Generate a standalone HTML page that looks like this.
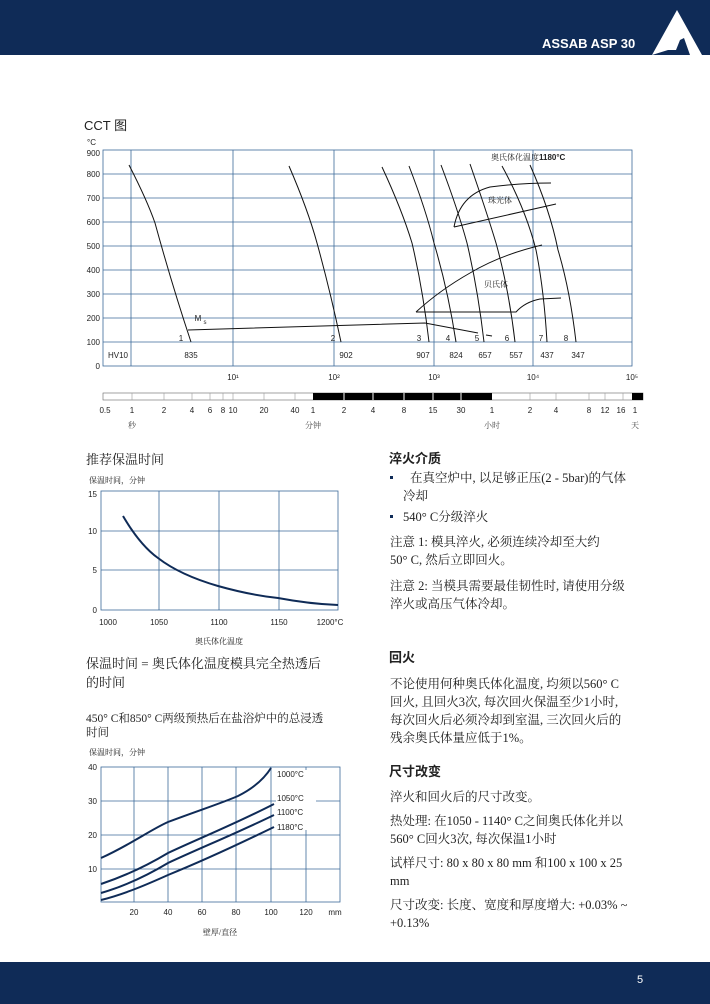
<!DOCTYPE html>
<html><head><meta charset="utf-8"><style>
body{margin:0;background:#fff}
svg{display:block}
.s{font-family:"Liberation Sans","Noto Sans CJK SC",sans-serif}
.r{font-family:"Liberation Serif","Noto Serif CJK SC",serif}
</style></head><body>
<svg width="710" height="1004" viewBox="0 0 710 1004" xmlns="http://www.w3.org/2000/svg">
<rect x="0" y="0" width="710" height="55" fill="#0f2b57"/>
<text x="542" y="48" class="s" font-size="13" font-weight="bold" fill="#fff">ASSAB ASP 30</text>
<path d="M652 55 L677 10 L702 55 L690 55 L684 38 L680 40 L676 50 L668 50 Z" fill="#fff"/>
<rect x="0" y="962" width="710" height="42" fill="#0f2b57"/>
<text x="637" y="983" class="s" font-size="11" fill="#fff">5</text>

<!-- CCT -->
<text x="84" y="130" class="s" font-size="13" fill="#222">CCT 图</text>
<text x="87" y="145" class="s" font-size="8" fill="#222">°C</text>
<g stroke="#3c6a9a" stroke-width="0.8" fill="none">
<rect x="103" y="150" width="529" height="216"/>
<line x1="103" y1="174" x2="632" y2="174"/><line x1="103" y1="198" x2="632" y2="198"/>
<line x1="103" y1="222" x2="632" y2="222"/><line x1="103" y1="246" x2="632" y2="246"/>
<line x1="103" y1="270" x2="632" y2="270"/><line x1="103" y1="294" x2="632" y2="294"/>
<line x1="103" y1="318" x2="632" y2="318"/><line x1="103" y1="342" x2="632" y2="342"/>
<line x1="131" y1="150" x2="131" y2="366"/><line x1="233" y1="150" x2="233" y2="366"/>
<line x1="334" y1="150" x2="334" y2="366"/><line x1="434" y1="150" x2="434" y2="366"/>
<line x1="533" y1="150" x2="533" y2="366"/>
</g>
<g class="s" font-size="8" fill="#222" text-anchor="end">
<text x="100" y="156">900</text><text x="100" y="177">800</text><text x="100" y="201">700</text>
<text x="100" y="225">600</text><text x="100" y="249">500</text><text x="100" y="273">400</text>
<text x="100" y="297">300</text><text x="100" y="321">200</text><text x="100" y="345">100</text>
<text x="100" y="369">0</text>
</g>
<g class="s" font-size="8" fill="#222" text-anchor="middle">
<text x="233" y="380">10¹</text><text x="334" y="380">10²</text><text x="434" y="380">10³</text>
<text x="533" y="380">10⁴</text><text x="632" y="380">10⁵</text>
<text x="118" y="358">HV10</text><text x="191" y="358">835</text><text x="346" y="358">902</text>
<text x="423" y="358">907</text><text x="456" y="358">824</text><text x="485" y="358">657</text>
<text x="516" y="358">557</text><text x="547" y="358">437</text><text x="578" y="358">347</text>
<text x="181" y="341">1</text><text x="333" y="341">2</text><text x="419" y="341">3</text>
<text x="448" y="341">4</text><text x="477" y="341">5</text><text x="507" y="341">6</text>
<text x="541" y="341">7</text><text x="566" y="341">8</text>
<text x="198" y="321">M</text><text x="205" y="324" font-size="6">s</text>
</g>
<text x="491" y="160" class="r" font-size="8" fill="#222">奥氏体化温度<tspan class="s" font-weight="bold">1180°C</tspan></text>
<text x="488" y="203" class="r" font-size="8" fill="#222">珠光体</text>
<text x="484" y="287" class="r" font-size="8" fill="#222">贝氏体</text>
<g stroke="#111" stroke-width="1" fill="none">
<path d="M129 165 Q147 200 155 223 Q172 285 191 342"/>
<path d="M289 166 Q308 210 317 243 Q330 290 341 342"/>
<path d="M382 167 Q402 210 412 243 Q423 290 429 342"/>
<path d="M409 166 Q426 210 434 243 Q448 290 456 342"/>
<path d="M441 165 Q458 210 467 243 Q478 290 484 342"/>
<path d="M470 164 Q486 210 496 243 Q509 290 515 342"/>
<path d="M502 166 Q526 210 536 250 Q544 290 547 342"/>
<path d="M530 165 Q550 210 558 250 Q570 290 576 342"/>
<path d="M454 227 Q460 195 490 187 Q520 183 551 183"/>
<path d="M454 227 L556 204"/>
<path d="M416 312 Q440 290 470 273 Q500 255 542 245"/>
<path d="M416 312 L516 312 Q525 302 540 299 L561 298"/>
<path d="M188 330 L425 323 L478 333"/>
<path d="M486 335 L492 336" />
</g>
<!-- time bar -->
<g stroke="#666" stroke-width="0.6" fill="#fff">
<rect x="103" y="393" width="540" height="7"/>
</g>
<rect x="313" y="393" width="179" height="7" fill="#000"/>
<rect x="632" y="393" width="11" height="7" fill="#000"/>
<g stroke="#999" stroke-width="0.6">
<line x1="132" y1="393" x2="132" y2="400"/><line x1="164" y1="393" x2="164" y2="400"/>
<line x1="192" y1="393" x2="192" y2="400"/><line x1="210" y1="393" x2="210" y2="400"/>
<line x1="223" y1="393" x2="223" y2="400"/><line x1="233" y1="393" x2="233" y2="400"/>
<line x1="264" y1="393" x2="264" y2="400"/><line x1="295" y1="393" x2="295" y2="400"/>
<line x1="530" y1="393" x2="530" y2="400"/><line x1="556" y1="393" x2="556" y2="400"/>
<line x1="589" y1="393" x2="589" y2="400"/><line x1="605" y1="393" x2="605" y2="400"/>
<line x1="623" y1="393" x2="623" y2="400"/>
</g>
<g stroke="#fff" stroke-width="1">
<line x1="344" y1="393" x2="344" y2="400"/><line x1="373" y1="393" x2="373" y2="400"/>
<line x1="404" y1="393" x2="404" y2="400"/><line x1="433" y1="393" x2="433" y2="400"/>
<line x1="461" y1="393" x2="461" y2="400"/>
</g>
<g class="s" font-size="8" fill="#222" text-anchor="middle">
<text x="105" y="413">0.5</text><text x="132" y="413">1</text><text x="164" y="413">2</text>
<text x="192" y="413">4</text><text x="210" y="413">6</text><text x="223" y="413">8</text>
<text x="233" y="413">10</text><text x="264" y="413">20</text><text x="295" y="413">40</text>
<text x="313" y="413">1</text><text x="344" y="413">2</text><text x="373" y="413">4</text>
<text x="404" y="413">8</text><text x="433" y="413">15</text><text x="461" y="413">30</text>
<text x="492" y="413">1</text><text x="530" y="413">2</text><text x="556" y="413">4</text>
<text x="589" y="413">8</text><text x="605" y="413">12</text><text x="621" y="413">16</text>
<text x="635" y="413">1</text>
</g>
<g class="r" font-size="8" fill="#444" text-anchor="middle">
<text x="132" y="428">秒</text><text x="313" y="428">分钟</text><text x="492" y="428">小时</text><text x="635" y="428">天</text>
</g>

<!-- chart 2 -->
<text x="86" y="464" class="r" font-size="13" fill="#222">推荐保温时间</text>
<text x="89" y="483" class="r" font-size="8" fill="#222">保温时间，分钟</text>
<g stroke="#3c6a9a" stroke-width="0.8" fill="none">
<rect x="101" y="491" width="237" height="119"/>
<line x1="101" y1="531" x2="338" y2="531"/><line x1="101" y1="570" x2="338" y2="570"/>
<line x1="159" y1="491" x2="159" y2="610"/><line x1="219" y1="491" x2="219" y2="610"/><line x1="279" y1="491" x2="279" y2="610"/>
</g>
<g class="s" font-size="8" fill="#222" text-anchor="end">
<text x="97" y="497">15</text><text x="97" y="534">10</text><text x="97" y="573">5</text><text x="97" y="613">0</text>
</g>
<g class="s" font-size="8" fill="#222" text-anchor="middle">
<text x="108" y="625">1000</text><text x="159" y="625">1050</text><text x="219" y="625">1100</text>
<text x="279" y="625">1150</text><text x="330" y="625">1200°C</text>
</g>
<text x="219" y="644" class="r" font-size="8" fill="#222" text-anchor="middle">奥氏体化温度</text>
<path d="M123 516 Q140 545 158 558 Q180 575 218 586 Q250 595 278 598 Q310 604 338 605" stroke="#0f2b57" stroke-width="2" fill="none"/>
<text x="86" y="668" class="r" font-size="13" fill="#222">保温时间 = 奥氏体化温度模具完全热透后</text>
<text x="86" y="687" class="r" font-size="13" fill="#222">的时间</text>
<text x="86" y="722" class="r" font-size="11.5" fill="#222">450° C和850° C两级预热后在盐浴炉中的总浸透</text>
<text x="86" y="736" class="r" font-size="11.5" fill="#222">时间</text>
<text x="89" y="755" class="r" font-size="8" fill="#222">保温时间，分钟</text>

<!-- chart 3 -->
<g stroke="#3c6a9a" stroke-width="0.8" fill="none">
<rect x="101" y="767" width="239" height="135"/>
<line x1="101" y1="801" x2="340" y2="801"/><line x1="101" y1="835" x2="340" y2="835"/><line x1="101" y1="869" x2="340" y2="869"/>
<line x1="134" y1="767" x2="134" y2="902"/><line x1="168" y1="767" x2="168" y2="902"/><line x1="202" y1="767" x2="202" y2="902"/>
<line x1="236" y1="767" x2="236" y2="902"/><line x1="271" y1="767" x2="271" y2="902"/><line x1="306" y1="767" x2="306" y2="902"/>
</g>
<rect x="276" y="770" width="40" height="60" fill="#fff"/>
<g class="s" font-size="8" fill="#222" text-anchor="end">
<text x="97" y="770">40</text><text x="97" y="804">30</text><text x="97" y="838">20</text><text x="97" y="872">10</text>
</g>
<g class="s" font-size="8" fill="#222" text-anchor="middle">
<text x="134" y="915">20</text><text x="168" y="915">40</text><text x="202" y="915">60</text>
<text x="236" y="915">80</text><text x="271" y="915">100</text><text x="306" y="915">120</text><text x="335" y="915">mm</text>
</g>
<text x="220" y="935" class="r" font-size="8" fill="#222" text-anchor="middle">壁厚/直径</text>
<g class="s" font-size="8" fill="#222">
<text x="277" y="777">1000°C</text><text x="277" y="801">1050°C</text><text x="277" y="815">1100°C</text><text x="277" y="830">1180°C</text>
</g>
<g stroke="#0f2b57" stroke-width="2" fill="none">
<path d="M101 858 C130 845 150 830 168 822 C200 810 222 803 238 796 C254 788 264 779 271 768"/>
<path d="M101 884 C125 876 148 865 168 853 C200 838 235 824 274 804"/>
<path d="M101 893 C125 886 148 875 168 863 C200 848 235 834 274 815"/>
<path d="M101 900 C125 894 148 884 168 875 C200 862 235 846 274 827"/>
</g>

<!-- right column -->
<g class="r" font-size="12.5" fill="#222">
<text x="389" y="463" class="s" font-size="13" font-weight="bold">淬火介质</text>
<rect x="390" y="476" width="3" height="3" fill="#0f2b57"/>
<text x="410" y="482">在真空炉中, 以足够正压(2 - 5bar)的气体</text>
<text x="403" y="500">冷却</text>
<rect x="390" y="515" width="3" height="3" fill="#0f2b57"/>
<text x="403" y="521">540° C分级淬火</text>
<text x="390" y="546">注意 1: 模具淬火, 必须连续冷却至大约</text>
<text x="390" y="564">50° C, 然后立即回火。</text>
<text x="390" y="590">注意 2: 当模具需要最佳韧性时, 请使用分级</text>
<text x="390" y="608">淬火或高压气体冷却。</text>
<text x="389" y="662" class="s" font-size="13" font-weight="bold">回火</text>
<text x="390" y="688">不论使用何种奥氏体化温度, 均须以560° C</text>
<text x="390" y="706">回火, 且回火3次, 每次回火保温至少1小时,</text>
<text x="390" y="724">每次回火后必须冷却到室温, 三次回火后的</text>
<text x="390" y="742">残余奥氏体量应低于1%。</text>
<text x="389" y="776" class="s" font-size="13" font-weight="bold">尺寸改变</text>
<text x="390" y="801">淬火和回火后的尺寸改变。</text>
<text x="390" y="825">热处理: 在1050 - 1140° C之间奥氏体化并以</text>
<text x="390" y="843">560° C回火3次, 每次保温1小时</text>
<text x="390" y="867">试样尺寸: 80 x 80 x 80 mm 和100 x 100 x 25</text>
<text x="390" y="885">mm</text>
<text x="390" y="909">尺寸改变: 长度、宽度和厚度增大: +0.03% ~</text>
<text x="390" y="927">+0.13%</text>
</g>
</svg>
</body></html>
